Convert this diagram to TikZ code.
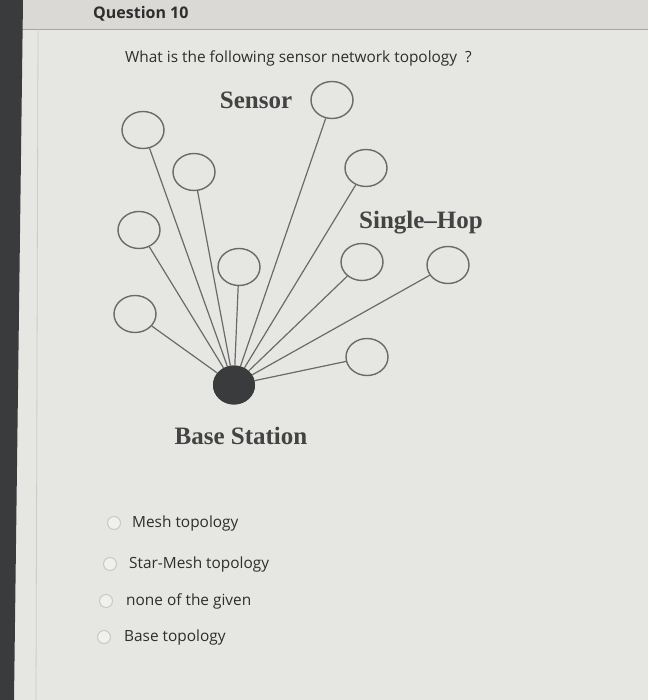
\documentclass[tikz,border=0pt]{standalone}
\usepackage{fontspec}
\setmainfont{Liberation Serif}
\newfontfamily\uifont{Open Sans}
\usetikzlibrary{shapes.geometric}
\definecolor{panel}{HTML}{E6E6E2}
\definecolor{header}{HTML}{DAD9D5}
\definecolor{strip}{HTML}{3A3B3D}
\definecolor{ink}{HTML}{2E2E2E}
\definecolor{wire}{HTML}{6A6A6A}
\definecolor{radio}{HTML}{C9C9C6}
\tikzset{
  sensor/.style={ellipse, draw=wire, line width=1.4pt, fill=panel, minimum width=42pt, minimum height=37pt, inner sep=0pt},
  basest/.style={ellipse, fill=strip, minimum width=42pt, minimum height=39pt, inner sep=0pt},
  link/.style={draw=wire, line width=1.2pt},
  lbl/.style={font=\fontsize{25}{30}\selectfont\bfseries, text=ink!90},
  ui/.style={font=\uifont\fontsize{15.4}{18}\selectfont, text=ink, anchor=west, inner sep=0pt},
  radiobtn/.style={circle, draw=radio, line width=1pt, fill=panel!60!white, minimum size=13pt, inner sep=0pt}
}
\begin{document}
\begin{tikzpicture}[x=1pt,y=-1pt]
\useasboundingbox (0,0) rectangle (648,700);
% backgrounds
\fill[panel] (0,0) rectangle (648,700);
\fill[header] (0,0) rectangle (648,29);
\draw[color=gray!70, line width=0.8pt] (22,29) -- (648,29);
\draw[color=gray!40, line width=0.8pt] (38,29) -- (36,700);
\fill[strip] (0,0) -- (23,0) -- (14,700) -- (0,700) -- cycle;
% header texts
\node[font=\uifont\fontsize{16}{19}\selectfont\bfseries, text=ink, anchor=west, inner sep=0pt] (q) at (93,14) {Question 10};
\node[ui] (prompt) at (125,58) {What is the following sensor network topology\ \ ?};
% sensors
\node[sensor] (s1) at (143,130) {};
\node[sensor] (s2) at (194,172) {};
\node[sensor] (s3) at (139,230) {};
\node[sensor] (s4) at (239,267) {};
\node[sensor] (s5) at (135,314) {};
\node[sensor] (s6) at (332,100) {};
\node[sensor] (s7) at (366,168) {};
\node[sensor] (s8) at (362,262) {};
\node[sensor] (s9) at (448,265) {};
\node[sensor] (s10) at (367,357) {};
\node[basest] (bs) at (234,385) {};
\foreach \i in {1,...,10} { \draw[link] (bs) -- (s\i); }
\node[basest] at (bs) {};
% labels
\node[lbl] (lsensor) at (256,100) {Sensor};
\node[lbl] (lhop) at (421,223) {Single–Hop};
\node[lbl] (lbase) at (241,436) {Base Station};
% options
\node[radiobtn] (r1) at (114,523) {};
\node[radiobtn] (r2) at (110,564) {};
\node[radiobtn] (r3) at (106,601) {};
\node[radiobtn] (r4) at (104,637) {};
\node[ui] (o1) at (132,523) {Mesh topology};
\node[ui] (o2) at (129,564) {Star-Mesh topology};
\node[ui] (o3) at (126,601) {none of the given};
\node[ui] (o4) at (124,637) {Base topology};
\end{tikzpicture}
\end{document}
